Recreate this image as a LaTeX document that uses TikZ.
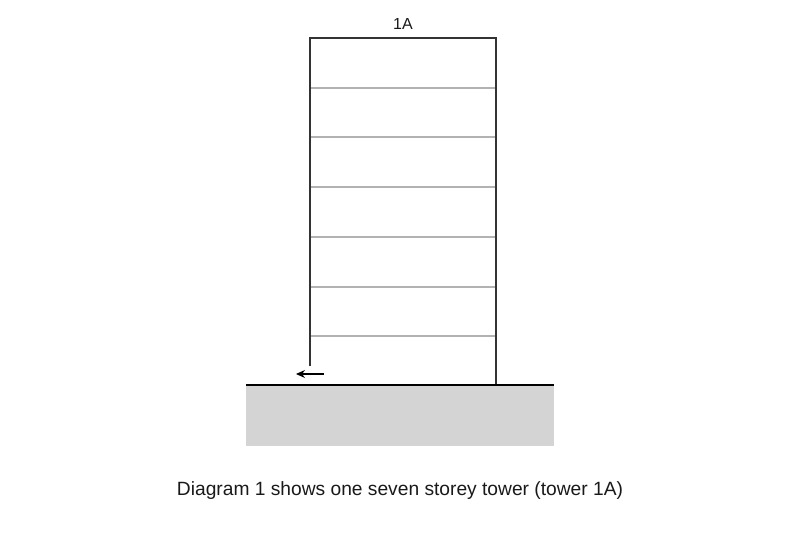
\documentclass[tikz,border=0pt]{standalone}
\usepackage{fontspec}
\setmainfont{Liberation Sans}
\usetikzlibrary{arrows.meta}
\begin{document}
\begin{tikzpicture}[x=1pt,y=-1pt,
  wall/.style={draw=black!80,line width=1.1pt},
  floorline/.style={draw=black!30,line width=1.2pt},
  groundline/.style={draw=black,line width=2pt},
  lbl/.style={font=\fontsize{16}{18}\selectfont,text=black!90,inner sep=0pt},
  captiontext/.style={font=\fontsize{19.2}{22}\selectfont,text=black!90,inner sep=0pt}]
\useasboundingbox (0,0) rectangle (800,534);
\fill[black!17] (246,385) rectangle (554,446);
\coordinate (tl) at (310,38);
\coordinate (tr) at (496,38);
\coordinate (bl) at (310,366);
\coordinate (br) at (496,385);
\foreach \y in {88,137,187,237,287,336}{
  \draw[floorline] (310,\y) -- (496,\y);
}
\draw[wall] (bl) -- (tl) -- (tr) -- (br);
\coordinate (gl) at (246,385);
\coordinate (gr) at (554,385);
\draw[groundline] (gl) -- (gr);
\coordinate (a1) at (324,374);
\coordinate (a2) at (296,374);
\draw[black,line width=1.1pt,-{Stealth[length=9pt,width=8pt]}] (a1) -- (a2);
\node[lbl] (top) at (403,24) {1A};
\node[captiontext] (caption) at (400,491) {Diagram 1 shows one seven storey tower (tower 1A)};
\end{tikzpicture}
\end{document}
